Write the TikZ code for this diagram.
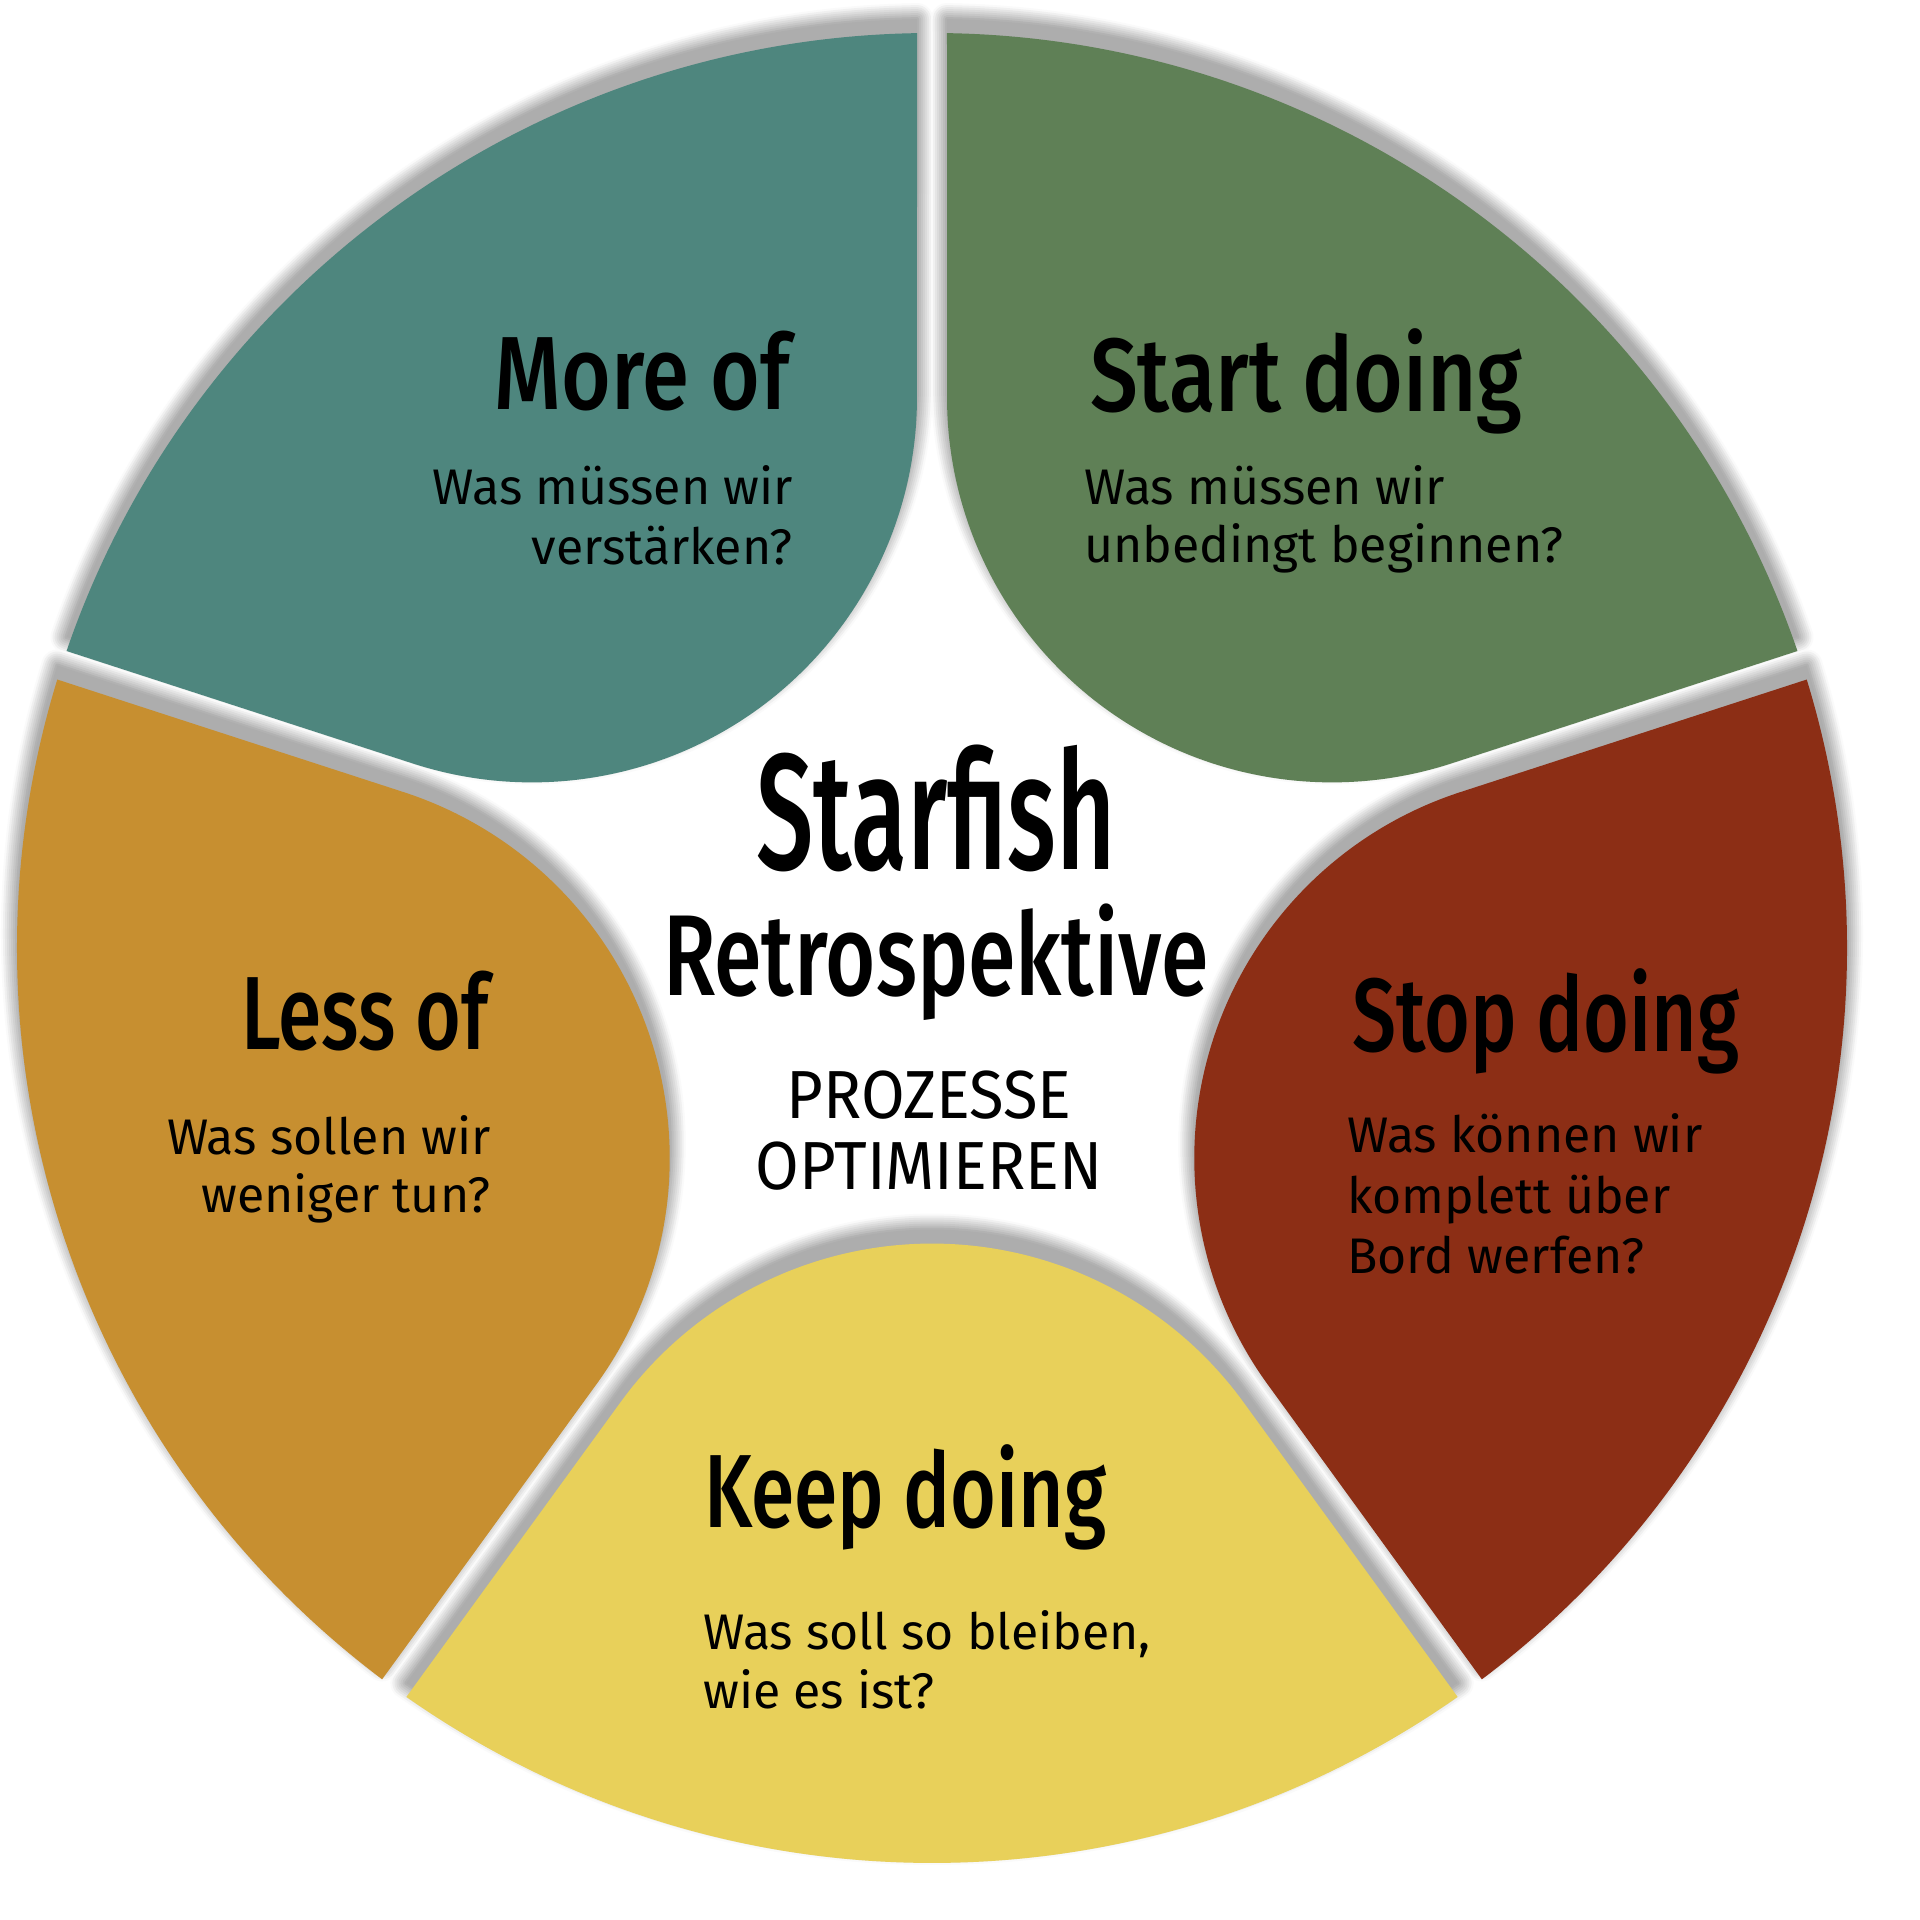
\documentclass[tikz,border=0pt]{standalone}
\usepackage{fontspec}
\setmainfont{Fira Sans}
\newfontfamily\bodyfont{Fira Sans}
\newfontfamily\capsfont{Fira Sans}[FakeStretch=0.93]
\newfontfamily\handA{Fira Sans Medium}[FakeStretch=0.82]
\newfontfamily\handB{Fira Sans Medium}[FakeStretch=0.755]
\newfontfamily\starfont{Fira Sans Medium}[FakeStretch=0.62]
\newfontfamily\retrofont{Fira Sans Medium}[FakeStretch=0.75]
\definecolor{cteal}{HTML}{4E867E}
\definecolor{cgreen}{HTML}{5F8056}
\definecolor{cred}{HTML}{8C2E15}
\definecolor{cyellow}{HTML}{E8D05A}
\definecolor{cgold}{HTML}{C78F30}
\tikzset{
  headA/.style={font=\handA\fontsize{104}{110}\selectfont, inner sep=0pt},
  headB/.style={font=\handB\fontsize{104}{110}\selectfont, inner sep=0pt},
  body/.style={font=\bodyfont\fontsize{50}{60}\selectfont, inner sep=0pt},
  caps/.style={font=\capsfont\fontsize{68}{80}\selectfont, inner sep=0pt},
}
\def\R{915}
\def\g{15}
\def\rr{385}
\pgfmathsetmacro\cc{(\rr+\g)/sin(36)}
\pgfmathsetmacro\tx{\cc-\rr*sin(36)}
\pgfmathsetmacro\ty{\rr*cos(36)}
\pgfmathsetmacro\da{36-asin(\g/\R)}
\def\petal{(\da:\R) -- (\tx,\ty) arc[start angle=126, end angle=234, radius=\rr] -- (-\da:\R) arc[start angle=-\da, end angle=\da, radius=\R] -- cycle}
\begin{document}
\begin{tikzpicture}[x=1pt,y=1pt]
\useasboundingbox (0,0) rectangle (1920,1920);
\fill[white] (0,0) rectangle (1920,1920);
% soft shadows (shifted upwards), graded from light outside to darker at the edge
\foreach \ang in {126,54,-18,-90,198}{
  \begin{scope}[shift={(932,986)}, rotate=\ang]
    \foreach \k in {8,7,...,1}{
      \pgfmathtruncatemacro\shd{30-4*(\k-1)}
      \draw[draw=black!\shd, line width=4*\k, line join=round] \petal;
    }
    \fill[black!32] \petal;
  \end{scope}
}
% petals
\foreach \ang/\col in {126/cteal, 54/cgreen, -18/cred, -90/cyellow, 198/cgold}{
  \begin{scope}[shift={(932,972)}, rotate=\ang]
    \fill[\col] \petal;
  \end{scope}
}
% teal
\node[headA, anchor=base east] (moreof) at (790,1510) {More of};
\node[body, anchor=base east] (moreA) at (793,1415) {Was müssen wir};
\node[body, anchor=base east] (moreB) at (793,1355) {verstärken?};
% green
\node[headA, anchor=base west] (start) at (1090,1508) {Start doing};
\node[body, anchor=base west] (startA) at (1084,1415) {Was müssen wir};
\node[body, anchor=base west] (startB) at (1084,1357) {unbedingt beginnen?};
% centre
\node[inner sep=0pt, font=\starfont\fontsize{165}{170}\selectfont, anchor=base] (starfish) at (936,1050) {Starfish};
\node[inner sep=0pt, font=\retrofont\fontsize{115}{120}\selectfont, anchor=base] (retro) at (936,924) {Retrospektive};
\node[caps, anchor=base] (proz) at (929,801) {PROZESSE};
\node[caps, anchor=base] (opt) at (929,730) {OPTIMIEREN};
% gold
\node[headB, anchor=base east] (lessof) at (489,870) {Less of};
\node[body, anchor=base east] (lessA) at (491,765) {Was sollen wir};
\node[body, anchor=base east] (lessB) at (491,707) {weniger tun?};
% red
\node[headB, anchor=base west] (stop) at (1352,868) {Stop doing};
\node[body, anchor=base west] (stopA) at (1347,767) {Was können wir};
\node[body, anchor=base west] (stopB) at (1347,706) {komplett über};
\node[body, anchor=base west] (stopC) at (1347,646) {Bord werfen?};
% yellow
\node[headB, anchor=base west] (keep) at (704,392) {Keep doing};
\node[body, anchor=base west] (keepA) at (703,270) {Was soll so bleiben,};
\node[body, anchor=base west] (keepB) at (703,211) {wie es ist?};
\end{tikzpicture}
\end{document}
